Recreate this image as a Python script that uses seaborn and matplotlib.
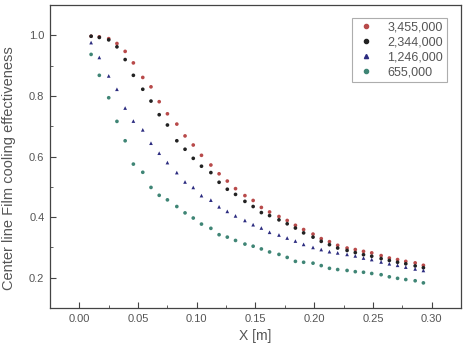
import numpy as np
import pandas as pd
import matplotlib
matplotlib.use("Agg")
import matplotlib.pyplot as plt
import seaborn as sns
from matplotlib.ticker import MultipleLocator
from matplotlib.lines import Line2D

x_vals = [0.010, 0.017, 0.025, 0.032, 0.039, 0.046, 0.054, 0.061, 0.068, 0.075,
          0.083, 0.090, 0.097, 0.104, 0.112, 0.119, 0.126, 0.133, 0.141, 0.148,
          0.155, 0.162, 0.170, 0.177, 0.184, 0.191, 0.199, 0.206, 0.213, 0.220,
          0.228, 0.235, 0.242, 0.249, 0.257, 0.264, 0.271, 0.278, 0.286, 0.293]

re_3455 = [0.997, 0.995, 0.989, 0.973, 0.947, 0.909, 0.861, 0.830, 0.781, 0.741,
           0.707, 0.668, 0.638, 0.604, 0.572, 0.543, 0.519, 0.494, 0.471, 0.455,
           0.432, 0.417, 0.402, 0.389, 0.373, 0.359, 0.344, 0.329, 0.319, 0.307,
           0.298, 0.293, 0.287, 0.282, 0.273, 0.265, 0.260, 0.254, 0.249, 0.241]

re_2344 = [0.997, 0.993, 0.985, 0.962, 0.920, 0.868, 0.822, 0.783, 0.738, 0.704,
           0.652, 0.624, 0.594, 0.568, 0.547, 0.515, 0.492, 0.475, 0.452, 0.435,
           0.415, 0.405, 0.391, 0.378, 0.364, 0.348, 0.334, 0.320, 0.309, 0.298,
           0.290, 0.283, 0.276, 0.271, 0.263, 0.257, 0.251, 0.246, 0.239, 0.233]

re_1246 = [0.976, 0.927, 0.866, 0.822, 0.760, 0.717, 0.688, 0.644, 0.611, 0.580,
           0.547, 0.516, 0.498, 0.471, 0.456, 0.434, 0.419, 0.404, 0.389, 0.375,
           0.364, 0.350, 0.341, 0.331, 0.321, 0.310, 0.300, 0.293, 0.286, 0.282,
           0.277, 0.272, 0.265, 0.260, 0.252, 0.246, 0.241, 0.235, 0.229, 0.224]

re_655 = [0.937, 0.868, 0.794, 0.716, 0.652, 0.575, 0.548, 0.498, 0.472, 0.457,
          0.435, 0.414, 0.397, 0.377, 0.363, 0.342, 0.334, 0.323, 0.311, 0.304,
          0.295, 0.285, 0.277, 0.267, 0.254, 0.251, 0.248, 0.240, 0.231, 0.227,
          0.224, 0.220, 0.218, 0.214, 0.210, 0.203, 0.198, 0.194, 0.190, 0.183]

series_labels = ["3,455,000", "2,344,000", "1,246,000", "655,000"]
series_values = [re_3455, re_2344, re_1246, re_655]

x_ticks = [0.00, 0.05, 0.10, 0.15, 0.20, 0.25, 0.30]
y_ticks = [0.2, 0.4, 0.6, 0.8, 1.0]

colors = {"3,455,000": "#b84a4a", "2,344,000": "#222222",
          "1,246,000": "#2c2c80", "655,000": "#3f8575"}
markers = {"3,455,000": "o", "2,344,000": "o", "1,246,000": "^", "655,000": "o"}

rows = []
for lab, vals in zip(series_labels, series_values):
    for xv, yv in zip(x_vals, vals):
        rows.append({"X": xv, "eta": yv, "Re": lab})
df = pd.DataFrame(rows)

sns.set_style("white")
plt.rcParams["font.family"] = ["Liberation Sans", "DejaVu Sans"]

fig = plt.figure(figsize=(4.74, 3.59), dpi=100)
ax = fig.add_axes([0.1055, 0.142, 0.867, 0.844])

sns.scatterplot(data=df, x="X", y="eta", hue="Re", style="Re",
                hue_order=series_labels, style_order=series_labels,
                palette=colors, markers=markers, s=7, linewidth=0,
                ax=ax, legend=False)

ax.set_xlim(-0.025, 0.325)
ax.set_ylim(0.1, 1.1)
ax.set_xticks(x_ticks)
ax.set_yticks(y_ticks)
ax.set_xticklabels([f"{t:.2f}" for t in x_ticks])
ax.set_yticklabels([f"{t:.1f}" for t in y_ticks])
ax.xaxis.set_minor_locator(MultipleLocator(0.025))
ax.yaxis.set_minor_locator(MultipleLocator(0.1))
ax.tick_params(which="major", direction="in", length=4, width=0.8,
               colors="#444444", labelcolor="#555555", labelsize=8,
               top=False, right=False, bottom=True, left=True, pad=4)
ax.tick_params(which="minor", direction="in", length=2, width=0.6,
               colors="#444444", top=False, right=False, bottom=True, left=True)
for sp in ax.spines.values():
    sp.set_color("#444444")
    sp.set_linewidth(0.9)

ax.set_xlabel("X [m]", fontsize=10, color="#555555", labelpad=4)
ax.set_ylabel("Center line Film cooling effectiveness", fontsize=10.5,
              color="#555555")
ax.yaxis.set_label_coords(-0.083, 0.462)

handles = [Line2D([], [], linestyle="none", marker=markers[l], color=colors[l],
                  markersize=3) for l in series_labels]
leg = ax.legend(handles, series_labels, loc="upper right",
                bbox_to_anchor=(0.966, 0.957), fontsize=9, frameon=True,
                fancybox=False, edgecolor="#999999", handletextpad=1.0,
                borderpad=0.3, labelspacing=0.22, handlelength=1.5,
                borderaxespad=0.0)
for t in leg.get_texts():
    t.set_color("#555555")
leg.get_frame().set_linewidth(0.8)

fig.savefig("out.png", dpi=100)
